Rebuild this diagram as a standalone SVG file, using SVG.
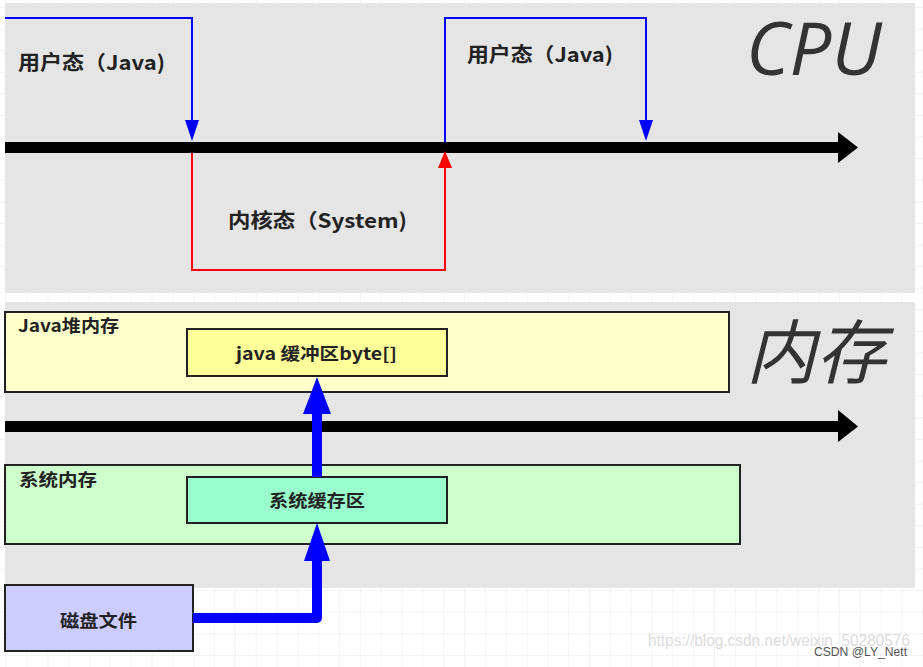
<svg xmlns="http://www.w3.org/2000/svg" width="923" height="667" viewBox="0 0 923 667">
<defs>
<pattern id="grid" x="5.8" y="6.9" width="20.83" height="21.6" patternUnits="userSpaceOnUse">
<path d="M0,0 V21.6 M0,0 H20.83" fill="none" stroke="#e8e8e8" stroke-width="1"/>
</pattern>
<style>
.lbl{font-family:"Noto Sans CJK SC","Microsoft YaHei",sans-serif;font-weight:bold;fill:#222;}
.big{font-family:"Open Sans","Noto Sans CJK SC",sans-serif;font-style:italic;fill:#333;}
.panel{fill:#e5e5e5;}
.box{stroke:#222;stroke-width:2;}
.thin{fill:none;stroke-width:2;}
.axis{fill:none;stroke:#000;stroke-width:11;}
.thick{fill:none;stroke:#0000ff;stroke-width:10;stroke-linejoin:round;}
</style>
</defs>
<rect width="923" height="667" fill="#ffffff"/>
<rect width="923" height="667" fill="url(#grid)"/>

<g id="cpu-panel">
<rect class="panel" x="5" y="3" width="910" height="290"/>
<text class="big" x="746" y="75" font-size="74">CPU</text>
</g>
<g id="mem-panel">
<rect class="panel" x="5" y="302" width="910" height="286"/>
<text class="big" x="746" y="378" font-size="70" font-family="Noto Sans CJK SC, sans-serif">内存</text>
</g>

<g id="cpu-labels">
<text class="lbl" x="18" y="70" font-size="20" textLength="147" lengthAdjust="spacingAndGlyphs">用户态（Java)</text>
<text class="lbl" x="467" y="62" font-size="20" textLength="146" lengthAdjust="spacingAndGlyphs">用户态（Java)</text>
<text class="lbl" x="228" y="228" font-size="20" textLength="179" lengthAdjust="spacingAndGlyphs">内核态（System)</text>
</g>

<g id="java-heap">
<rect class="box" x="5" y="312" width="724" height="80" fill="#ffffcc"/>
<text class="lbl" x="18" y="332" font-size="17" textLength="101" lengthAdjust="spacingAndGlyphs">Java堆内存</text>
</g>
<g id="java-buffer">
<rect class="box" x="187" y="329" width="260" height="47" fill="#ffff99"/>
<text class="lbl" x="236" y="360" font-size="17" textLength="161" lengthAdjust="spacingAndGlyphs">java 缓冲区byte[]</text>
</g>
<g id="sys-mem">
<rect class="box" x="5" y="465" width="735" height="79" fill="#ccffcc"/>
<text class="lbl" x="19" y="486" font-size="17" textLength="78" lengthAdjust="spacingAndGlyphs">系统内存</text>
</g>
<g id="sys-cache">
<rect class="box" x="187" y="477" width="260" height="46" fill="#99ffcc"/>
<text class="lbl" x="269" y="507" font-size="17" textLength="96" lengthAdjust="spacingAndGlyphs">系统缓存区</text>
</g>
<g id="disk-file">
<rect class="box" x="5" y="585" width="188" height="66" fill="#ccccff"/>
<text class="lbl" x="60" y="627" font-size="17" textLength="77" lengthAdjust="spacingAndGlyphs">磁盘文件</text>
</g>

<g id="connectors">
<path class="axis" d="M5,147.5 H842"/>
<polygon points="838,132 858,147.5 838,163" fill="#000"/>
<path class="axis" d="M5,426.5 H842"/>
<polygon points="838,410 858,426.5 838,442" fill="#000"/>

<path class="thin" stroke="#0000ff" d="M5,18 H192 V122"/>
<polygon points="185,120 199,120 192,141" fill="#0000ff"/>
<path class="thin" stroke="#ff0000" d="M192,153 V270 H445 V166"/>
<polygon points="438,168 452,168 445,151" fill="#ff0000"/>
<path class="thin" stroke="#0000ff" d="M445,142 V18 H646 V122"/>
<polygon points="639,120 653,120 646,141" fill="#0000ff"/>

<path class="thick" d="M193,618 H317 V558"/>
<polygon points="304,561 330,561 317,523" fill="#0000ff"/>
<path class="thick" d="M317,477 V411"/>
<polygon points="303,414 331,414 317,377" fill="#0000ff"/>
</g>

<g id="watermark">
<text x="648" y="646" font-family="Liberation Sans, Arial, sans-serif" font-size="17" fill="#dcdcdc" textLength="262" lengthAdjust="spacingAndGlyphs">https://blog.csdn.net/weixin_50280576</text>
<text x="814" y="656" font-family="Liberation Sans, Arial, sans-serif" font-size="13" fill="#555" textLength="93" lengthAdjust="spacingAndGlyphs">CSDN @LY_Nett</text>
</g>
</svg>
